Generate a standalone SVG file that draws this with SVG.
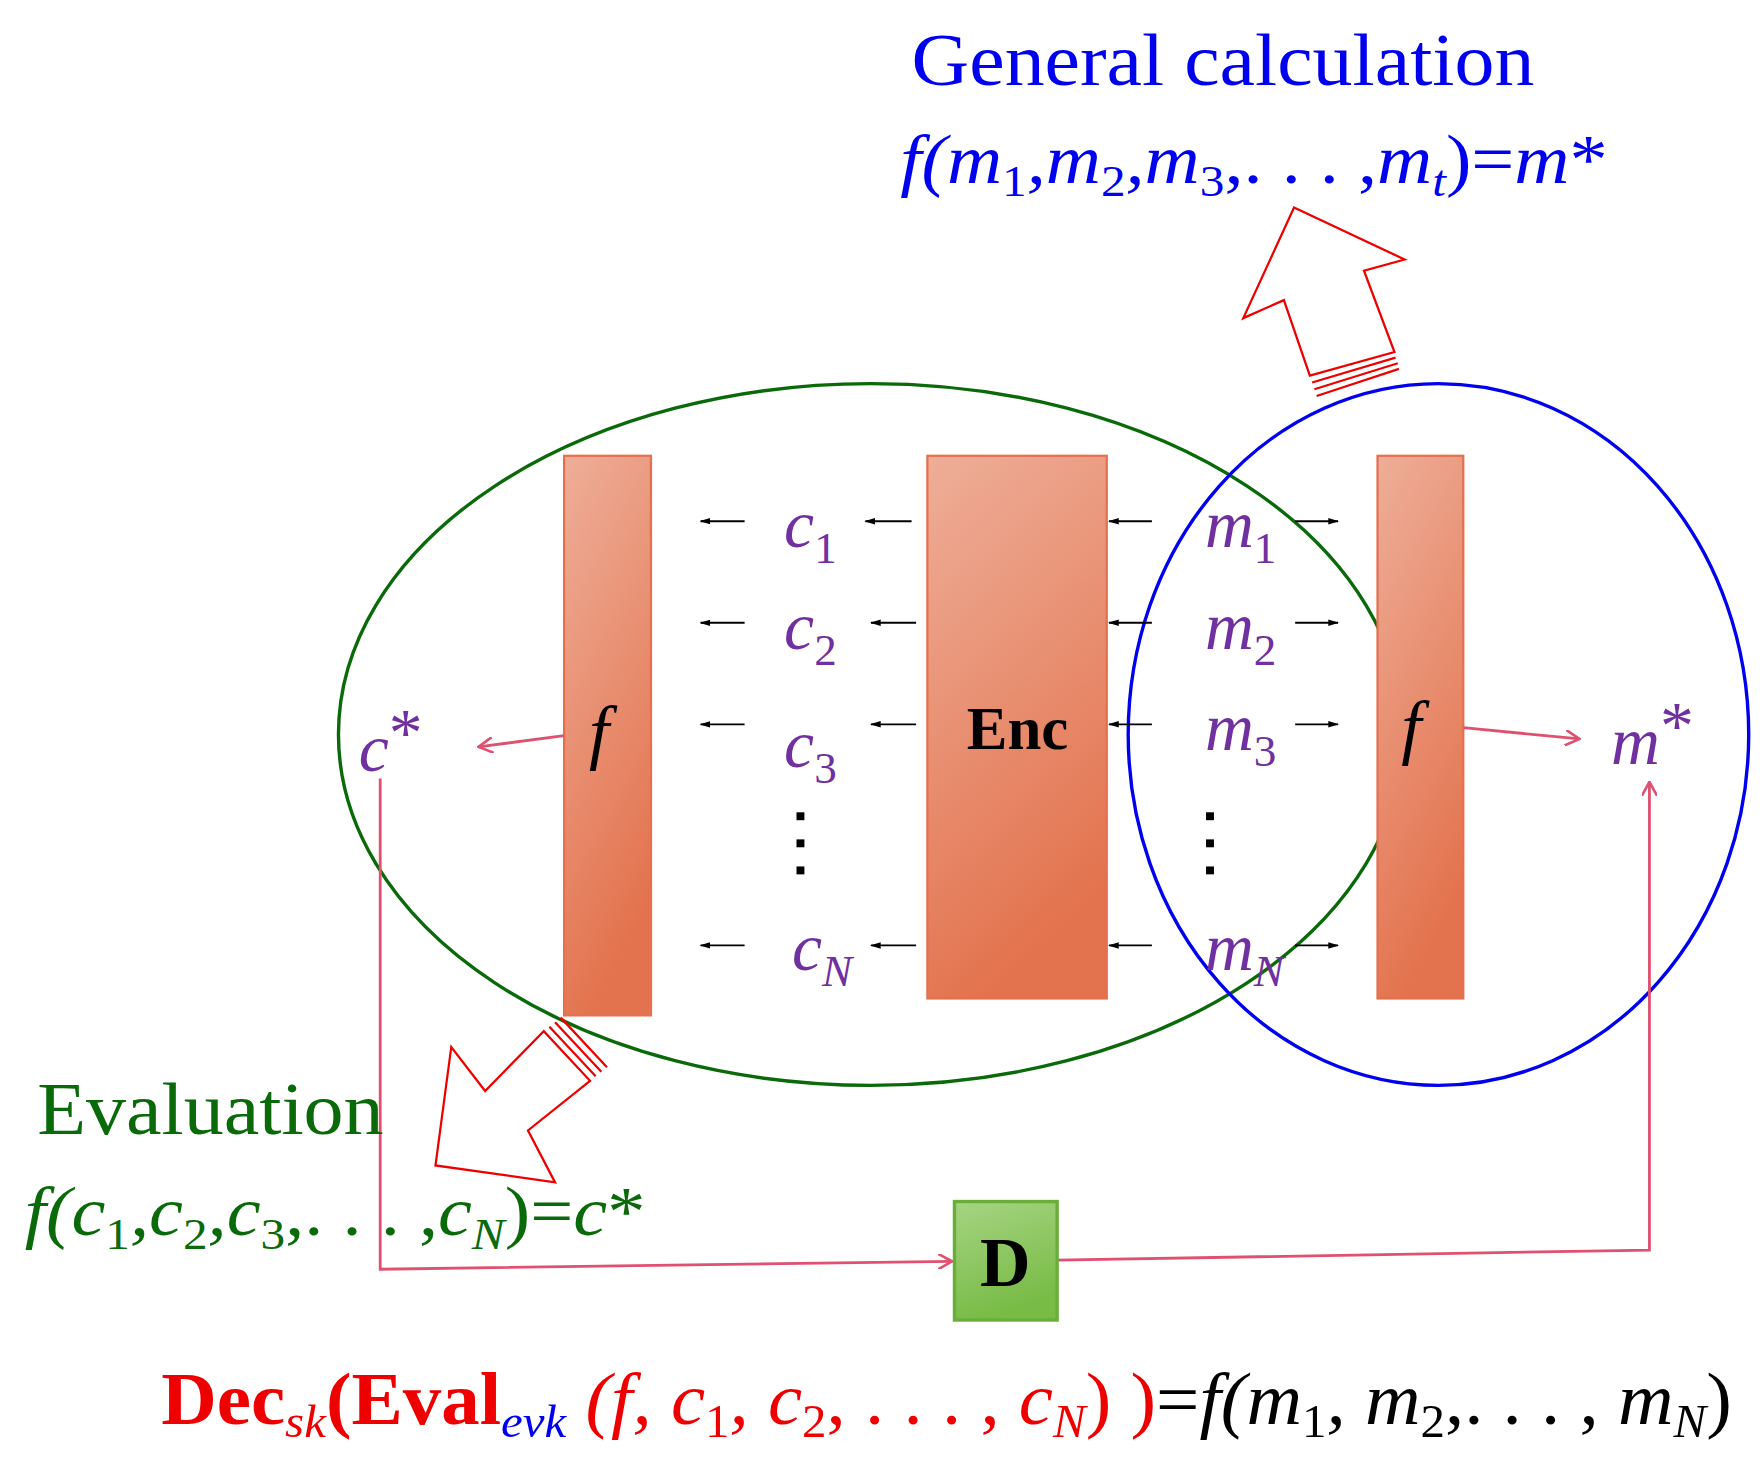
<svg xmlns="http://www.w3.org/2000/svg" width="1760" height="1467" viewBox="0 0 1760 1467">
<defs>
<linearGradient id="gbar" x1="0" y1="0" x2="0.3" y2="1"><stop offset="0" stop-color="#eeae98"/><stop offset="1" stop-color="#e3734e"/></linearGradient>
<linearGradient id="gD" x1="0" y1="0" x2="0.3" y2="1"><stop offset="0" stop-color="#a6d483"/><stop offset="1" stop-color="#78bb45"/></linearGradient>
<marker id="sa" viewBox="0 0 10 10" refX="9" refY="5" markerWidth="6" markerHeight="6" orient="auto"><path d="M0,2 L10,5 L0,8 Z" fill="#000"/></marker>
<marker id="pa" viewBox="0 0 12 12" refX="11" refY="6" markerWidth="14" markerHeight="14" markerUnits="userSpaceOnUse" orient="auto"><path d="M0,0 L11,6 L0,12" fill="none" stroke="#e05070" stroke-width="2"/></marker>
</defs>
<style>
.t{font-family:"Liberation Serif",serif}
.i{font-style:italic}
.pu{fill:#7030a0}
.bar{fill:url(#gbar);stroke:#e57050;stroke-width:2}
.sm{stroke:#000;stroke-width:1.6;marker-end:url(#sa)}
.pk{fill:none;stroke:#e05070;stroke-width:2.5}
</style>
<g transform="scale(1.1282)">
<g id="ellipses">
<ellipse cx="772" cy="651" rx="472" ry="311" fill="none" stroke="#0a6a0a" stroke-width="3"/>
<ellipse cx="1275" cy="651" rx="275" ry="311" fill="none" stroke="#0000ee" stroke-width="3"/>
</g>
<g id="fleft"><rect class="bar" x="500" y="404" width="77" height="496"/><text class="t i" x="522" y="670" font-size="64">f</text></g>
<g id="enc"><rect class="bar" x="822" y="404" width="159" height="481"/><text class="t" x="902" y="664" font-size="54" font-weight="bold" text-anchor="middle">Enc</text></g>
<g id="fright"><rect class="bar" x="1221" y="404" width="76" height="481"/><text class="t i" x="1242" y="666" font-size="64">f</text></g>
<g id="labels" class="t i pu">
<text x="695" y="485" font-size="60">c<tspan font-style="normal" font-size="40" dy="14">1</tspan></text>
<text x="695" y="575" font-size="60">c<tspan font-style="normal" font-size="40" dy="14">2</tspan></text>
<text x="695" y="680" font-size="60">c<tspan font-style="normal" font-size="40" dy="14">3</tspan></text>
<text x="702" y="860" font-size="60">c<tspan font-size="40" dy="14">N</tspan></text>
<text x="1068" y="485" font-size="60">m<tspan font-style="normal" font-size="40" dy="14">1</tspan></text>
<text x="1068" y="575" font-size="60">m<tspan font-style="normal" font-size="40" dy="14">2</tspan></text>
<text x="1068" y="665" font-size="60">m<tspan font-style="normal" font-size="40" dy="14">3</tspan></text>
<text x="1068" y="860" font-size="60">m<tspan font-size="40" dy="14">N</tspan></text>
<text x="318" y="683" font-size="60">c<tspan font-style="normal" dy="-14">*</tspan></text>
<text x="1428" y="677" font-size="60">m<tspan font-style="normal" dy="-14">*</tspan></text>
</g>
<g id="dots" fill="#000">
<rect x="706" y="720" width="7" height="7"/><rect x="706" y="744" width="7" height="7"/><rect x="706" y="768" width="7" height="7"/>
<rect x="1069" y="720" width="7" height="7"/><rect x="1069" y="744" width="7" height="7"/><rect x="1069" y="768" width="7" height="7"/>
</g>
<g id="connectors">
<line class="sm" x1="660" y1="462" x2="621" y2="462"/><line class="sm" x1="808" y1="462" x2="767" y2="462"/><line class="sm" x1="1021" y1="462" x2="983" y2="462"/><line class="sm" x1="1148" y1="462" x2="1186" y2="462"/>
<line class="sm" x1="660" y1="552" x2="621" y2="552"/><line class="sm" x1="812" y1="552" x2="772" y2="552"/><line class="sm" x1="1021" y1="552" x2="983" y2="552"/><line class="sm" x1="1148" y1="552" x2="1186" y2="552"/>
<line class="sm" x1="660" y1="642" x2="621" y2="642"/><line class="sm" x1="812" y1="642" x2="772" y2="642"/><line class="sm" x1="1021" y1="642" x2="983" y2="642"/><line class="sm" x1="1148" y1="642" x2="1186" y2="642"/>
<line class="sm" x1="660" y1="838" x2="621" y2="838"/><line class="sm" x1="812" y1="838" x2="772" y2="838"/><line class="sm" x1="1021" y1="838" x2="983" y2="838"/><line class="sm" x1="1148" y1="838" x2="1186" y2="838"/>
<line class="pk" x1="500" y1="652" x2="424" y2="662" marker-end="url(#pa)"/>
<line class="pk" x1="1297" y1="645" x2="1400" y2="655" marker-end="url(#pa)"/>
<polyline class="pk" points="337,690 337,1125 844,1118" marker-end="url(#pa)"/>
<polyline class="pk" points="937,1117 1462,1108 1462,693" stroke="#e8704a" marker-end="url(#pa)"/>
</g>
<g id="uparrow" fill="none" stroke="#ee0000" stroke-width="2">
<polygon points="1147,184 1245,230 1209,240 1236,312 1161,333 1138,266 1102,282"/>
<line x1="1163" y1="339" x2="1237" y2="317"/><line x1="1165" y1="345" x2="1239" y2="322"/><line x1="1167" y1="351" x2="1240" y2="327"/>
</g>
<g id="downarrow" fill="none" stroke="#ee0000" stroke-width="2">
<polygon points="386,1033 400,928 430,967 482,914 523,958 468,1002 492,1048"/>
<line x1="487" y1="910" x2="528" y2="954"/><line x1="492" y1="906" x2="533" y2="950"/><line x1="497" y1="902" x2="538" y2="946"/>
</g>
<g id="D"><rect x="846" y="1065" width="91" height="105" fill="url(#gD)" stroke="#6aae3a" stroke-width="3"/><text class="t" x="891" y="1140" font-size="62" font-weight="bold" text-anchor="middle">D</text></g>
<g id="texts" class="t">
<text x="808" y="75" font-size="66" fill="#0000ee" textLength="552" lengthAdjust="spacingAndGlyphs">General calculation</text>
<text x="798" y="162" font-size="62" fill="#0000ee" class="i" textLength="627" lengthAdjust="spacingAndGlyphs">f(m<tspan font-style="normal" font-size="40" dy="12">1</tspan><tspan dy="-12">,m</tspan><tspan font-style="normal" font-size="40" dy="12">2</tspan><tspan dy="-12">,m</tspan><tspan font-style="normal" font-size="40" dy="12">3</tspan><tspan dy="-12" font-style="normal">,. . . ,</tspan>m<tspan font-size="40" dy="12">t</tspan><tspan dy="-12" font-style="normal">)=</tspan>m<tspan font-style="normal">*</tspan></text>
<text x="33" y="1005" font-size="66" fill="#0a6a0a" textLength="307" lengthAdjust="spacingAndGlyphs">Evaluation</text>
<text x="22" y="1095" font-size="62" fill="#0a6a0a" class="i" textLength="550" lengthAdjust="spacingAndGlyphs">f(c<tspan font-style="normal" font-size="40" dy="12">1</tspan><tspan dy="-12">,c</tspan><tspan font-style="normal" font-size="40" dy="12">2</tspan><tspan dy="-12">,c</tspan><tspan font-style="normal" font-size="40" dy="12">3</tspan><tspan dy="-12" font-style="normal">,. . . ,</tspan>c<tspan font-size="40" dy="12">N</tspan><tspan dy="-12" font-style="normal">)=</tspan>c<tspan font-style="normal">*</tspan></text>
<text x="143" y="1262" font-size="66" textLength="1392" lengthAdjust="spacingAndGlyphs"><tspan fill="#ee0000" font-weight="bold">Dec</tspan><tspan fill="#ee0000" font-style="italic" font-size="42" dy="12">sk</tspan><tspan fill="#ee0000" font-weight="bold" dy="-12">(Eval</tspan><tspan fill="#0000ee" font-style="italic" font-size="42" dy="12">evk</tspan><tspan fill="#ee0000" dy="-12" font-style="italic"> (f, c</tspan><tspan fill="#ee0000" font-size="42" dy="12">1</tspan><tspan fill="#ee0000" dy="-12" font-style="italic">, c</tspan><tspan fill="#ee0000" font-size="42" dy="12">2</tspan><tspan fill="#ee0000" dy="-12">, . . . , </tspan><tspan fill="#ee0000" font-style="italic">c</tspan><tspan fill="#ee0000" font-style="italic" font-size="42" dy="12">N</tspan><tspan fill="#ee0000" dy="-12">) )</tspan><tspan fill="#000">=</tspan><tspan fill="#000" font-style="italic">f(m</tspan><tspan fill="#000" font-size="42" dy="12">1</tspan><tspan fill="#000" dy="-12" font-style="italic">, m</tspan><tspan fill="#000" font-size="42" dy="12">2</tspan><tspan fill="#000" dy="-12">,. . . , </tspan><tspan fill="#000" font-style="italic">m</tspan><tspan fill="#000" font-style="italic" font-size="42" dy="12">N</tspan><tspan fill="#000" dy="-12">)</tspan></text>
</g>
</g>
</svg>
